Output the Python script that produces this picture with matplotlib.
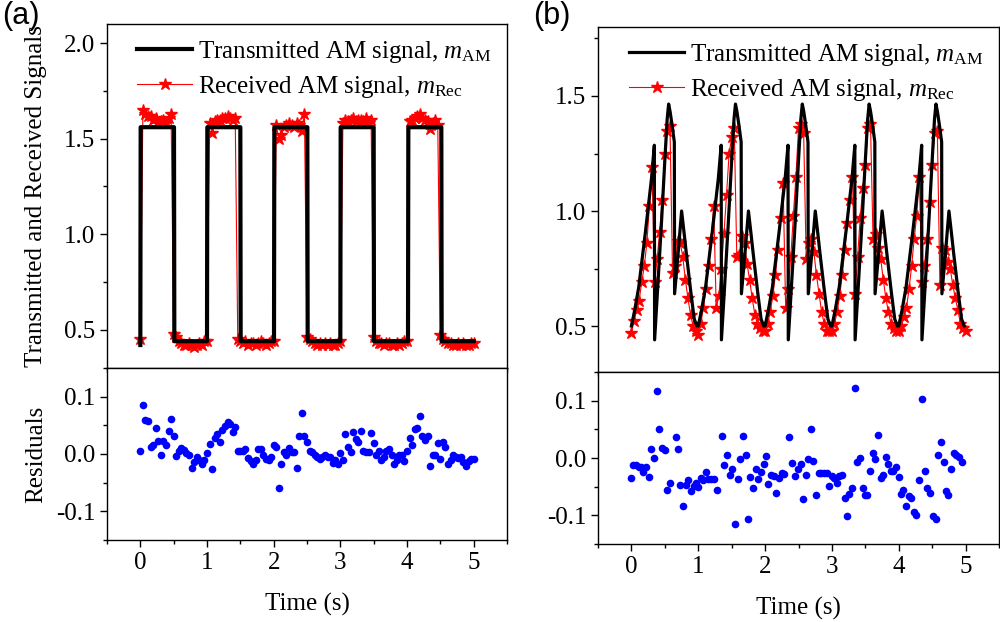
import matplotlib
matplotlib.use("Agg")
import matplotlib.pyplot as plt
import numpy as np
from matplotlib.ticker import MultipleLocator, FormatStrFormatter

# ---------------- data: panel (a) ----------------
# transmitted square-wave vertices
tx_a_t = [0.0, 0.005, 0.505, 0.51, 1.0, 1.005, 1.5, 1.505, 2.005, 2.01, 2.505, 2.51,
          3.0, 3.005, 3.5, 3.505, 4.015, 4.02, 4.515, 4.52, 5.0]
tx_a_v = [0.42, 1.56, 1.56, 0.44, 0.44, 1.56, 1.56, 0.44, 0.44, 1.56, 1.56, 0.44,
          0.44, 1.56, 1.56, 0.44, 0.44, 1.56, 1.56, 0.44, 0.44]

# sample times (a)
t_a = np.linspace(0, 5, 131)

rx_a = [0.45, 1.65, 1.63, 1.62, 1.62, 1.60, 1.61, 1.58, 1.59, 1.60, 1.58, 1.61, 1.63,
        0.48, 0.46, 0.44, 0.43, 0.42, 0.42, 0.43, 0.42, 0.41, 0.42, 0.43, 0.42, 0.44,
        0.44, 1.58, 1.53, 1.59, 1.60, 1.60, 1.61, 1.61, 1.62, 1.61, 1.60, 1.61, 0.45,
        0.44, 0.43, 0.44, 0.42, 0.43, 0.43, 0.42, 0.43, 0.44, 0.43, 0.42, 0.43, 0.44,
        0.44, 1.57, 1.50, 1.52, 1.56, 1.57, 1.58, 1.57, 1.56, 1.58, 1.57, 1.54, 1.63,
        0.46, 0.45, 0.44, 0.43, 0.42, 0.43, 0.42, 0.43, 0.42, 0.43, 0.42, 0.42, 0.43,
        0.44, 1.58, 1.60, 1.59, 1.60, 1.61, 1.59, 1.60, 1.60, 1.59, 1.61, 1.58, 1.60,
        0.46, 0.44, 0.43, 0.43, 0.42, 0.43, 0.43, 0.42, 0.42, 0.43, 0.42, 0.43, 0.44,
        0.44, 1.59, 1.60, 1.61, 1.62, 1.63, 1.61, 1.60, 1.59, 1.55, 1.58, 1.60, 1.57,
        0.47, 0.45, 0.44, 0.43, 0.43, 0.42, 0.42, 0.43, 0.42, 0.43, 0.42, 0.42, 0.43,
        0.43]

res_a = [0.006, 0.086, 0.060, 0.057, 0.012, 0.015, 0.045, 0.022, -0.001, 0.023,
         0.015, 0.040, 0.061, 0.031, -0.003, 0.005, 0.011, 0.007, 0.002, -0.001,
         -0.025, -0.014, -0.006, -0.011, -0.018, -0.011, 0.001, 0.018, -0.027, 0.028,
         0.034, 0.021, 0.041, 0.049, 0.055, 0.053, 0.038, 0.047, 0.006, 0.006,
         0.006, 0.008, -0.007, -0.013, -0.018, -0.011, 0.009, 0.008, -0.001, -0.008,
         -0.011, -0.005, 0.015, 0.013, -0.060, -0.017, 0.003, -0.001, 0.010, 0.003,
         0.003, -0.024, 0.032, 0.072, 0.031, 0.021, 0.006, 0.003, -0.001, -0.005,
         -0.009, -0.006, -0.001, -0.006, -0.005, -0.016, -0.011, -0.017, 0.001, -0.011,
         0.034, 0.012, 0.003, 0.039, 0.027, 0.021, 0.040, 0.006, 0.003, 0.003,
         0.037, 0.020, -0.002, 0.006, -0.011, -0.006, 0.005, 0.009, -0.002, -0.017,
         -0.011, -0.001, -0.002, -0.013, 0.006, 0.028, 0.015, 0.044, 0.045, 0.066,
         0.032, 0.025, 0.032, -0.021, -0.002, -0.001, 0.019, -0.009, 0.021, 0.013,
         -0.018, -0.011, -0.001, -0.005, -0.007, -0.006, -0.014, -0.021, -0.013, -0.008,
         -0.009]

# ---------------- data: panel (b) ----------------
tx_b_t = [0.00, 0.05, 0.11, 0.21, 0.30, 0.343, 0.347, 0.40, 0.45, 0.50, 0.535, 0.557,
          0.58, 0.61, 0.642, 0.646, 0.70, 0.751, 0.79, 0.82, 0.86, 0.89, 0.94, 0.98,
          1.00, 1.05, 1.11, 1.21, 1.30, 1.343, 1.347, 1.40, 1.45, 1.50, 1.535, 1.557,
          1.58, 1.61, 1.642, 1.646, 1.70, 1.751, 1.79, 1.82, 1.86, 1.89, 1.94, 1.98,
          2.00, 2.05, 2.11, 2.21, 2.30, 2.343, 2.347, 2.40, 2.45, 2.50, 2.535, 2.557,
          2.58, 2.61, 2.642, 2.646, 2.70, 2.751, 2.79, 2.82, 2.86, 2.89, 2.94, 2.98,
          3.00, 3.05, 3.11, 3.21, 3.30, 3.343, 3.347, 3.40, 3.45, 3.50, 3.535, 3.557,
          3.58, 3.61, 3.642, 3.646, 3.70, 3.751, 3.79, 3.82, 3.86, 3.89, 3.94, 3.98,
          4.00, 4.05, 4.11, 4.21, 4.30, 4.343, 4.347, 4.40, 4.45, 4.50, 4.535, 4.557,
          4.58, 4.61, 4.642, 4.646, 4.70, 4.751, 4.79, 4.82, 4.86, 4.89, 4.94, 4.98]
tx_b_v = [0.50, 0.57, 0.67, 0.91, 1.14, 1.286, 0.44, 0.70, 0.95, 1.22, 1.40, 1.465,
          1.43, 1.37, 1.30, 0.64, 0.82, 1.00, 0.90, 0.82, 0.72, 0.645, 0.53, 0.50,
          0.50, 0.57, 0.67, 0.91, 1.14, 1.286, 0.44, 0.70, 0.95, 1.22, 1.40, 1.465,
          1.43, 1.37, 1.30, 0.64, 0.82, 1.00, 0.90, 0.82, 0.72, 0.645, 0.53, 0.50,
          0.50, 0.57, 0.67, 0.91, 1.14, 1.286, 0.44, 0.70, 0.95, 1.22, 1.40, 1.465,
          1.43, 1.37, 1.30, 0.64, 0.82, 1.00, 0.90, 0.82, 0.72, 0.645, 0.53, 0.50,
          0.50, 0.57, 0.67, 0.91, 1.14, 1.286, 0.44, 0.70, 0.95, 1.22, 1.40, 1.465,
          1.43, 1.37, 1.30, 0.64, 0.82, 1.00, 0.90, 0.82, 0.72, 0.645, 0.53, 0.50,
          0.50, 0.57, 0.67, 0.91, 1.14, 1.286, 0.44, 0.70, 0.95, 1.22, 1.40, 1.465,
          1.43, 1.37, 1.30, 0.64, 0.82, 1.00, 0.90, 0.82, 0.72, 0.645, 0.53, 0.50]

t_b = np.linspace(0, 5, 131)
rx_b = [0.47, 0.52, 0.57, 0.61, 0.69, 0.76, 0.86, 1.02, 1.19, 0.69, 0.79, 0.91, 1.05,
        1.25, 1.35, 1.37, 0.73, 0.76, 0.87, 0.86, 0.80, 0.70, 0.62, 0.55, 0.50, 0.48,
        0.46, 0.51, 0.58, 0.66, 0.76, 0.88, 1.02, 0.58, 0.63, 0.75, 0.90, 1.07, 1.25,
        1.32, 1.36, 0.80, 0.81, 0.89, 0.86, 0.77, 0.70, 0.62, 0.55, 0.51, 0.49, 0.48,
        0.48, 0.51, 0.56, 0.63, 0.72, 0.83, 0.97, 1.12, 0.58, 0.66, 0.80, 0.98, 1.15,
        1.36, 1.38, 1.34, 0.79, 0.86, 0.88, 0.82, 0.72, 0.64, 0.56, 0.51, 0.48, 0.48,
        0.48, 0.51, 0.56, 0.63, 0.72, 0.83, 0.95, 1.05, 1.15, 0.64, 0.80, 0.97, 1.10,
        1.20, 1.36, 1.38, 0.88, 0.90, 0.84, 0.79, 0.70, 0.62, 0.56, 0.51, 0.49, 0.48,
        0.48, 0.50, 0.54, 0.58, 0.66, 0.76, 0.88, 0.98, 1.15, 0.69, 0.76, 0.88, 1.04,
        1.20, 1.34, 1.35, 0.68, 0.84, 0.83, 0.78, 0.75, 0.68, 0.62, 0.57, 0.51, 0.49,
        0.48]

res_b_t = [0.00, 0.03, 0.07, 0.11, 0.14, 0.18, 0.22, 0.26, 0.30, 0.34,
           0.38, 0.42, 0.46, 0.50, 0.53, 0.58, 0.66, 0.70, 0.73, 0.77,
           0.81, 0.85, 0.89, 0.93, 0.97, 1.00, 1.04, 1.07, 1.11, 1.15,
           1.19, 1.24, 1.28, 1.36, 1.39, 1.43, 1.47, 1.51, 1.55, 1.59,
           1.63, 1.67, 1.71, 1.74, 1.78, 1.82, 1.86, 1.90, 1.94, 1.98,
           2.01, 2.05, 2.09, 2.13, 2.17, 2.21, 2.25, 2.29, 2.36, 2.41,
           2.45, 2.49, 2.53, 2.56, 2.61, 2.64, 2.68, 2.72, 2.76, 2.80,
           2.84, 2.88, 2.92, 2.96, 3.00, 3.03, 3.07, 3.11, 3.15, 3.19,
           3.23, 3.26, 3.30, 3.34, 3.38, 3.42, 3.46, 3.49, 3.53, 3.57,
           3.61, 3.65, 3.69, 3.73, 3.77, 3.81, 3.84, 3.88, 3.92, 3.96,
           4.00, 4.03, 4.07, 4.11, 4.15, 4.19, 4.23, 4.26, 4.31, 4.35,
           4.39, 4.43, 4.47, 4.51, 4.55, 4.59, 4.63, 4.67, 4.71, 4.74,
           4.78, 4.82, 4.86, 4.90, 4.94]
res_b = [-0.035, -0.013, -0.013, -0.015, -0.015, -0.024, -0.015, -0.033, 0.015, 0.0,
         0.117, 0.051, 0.018, 0.014, -0.055, -0.043, 0.037, 0.016, -0.047, -0.083,
         -0.047, -0.039, -0.058, -0.049, -0.043, -0.051, -0.034, -0.039, -0.024, -0.037,
         -0.037, -0.037, -0.055, 0.038, -0.013, 0.005, -0.029, -0.020, -0.115, -0.037,
         -0.001, 0.038, 0.005, -0.106, -0.033, -0.053, -0.020, -0.037, -0.024, -0.011,
         0.003, -0.046, -0.029, -0.031, -0.061, -0.035, -0.026, -0.028, 0.037, -0.008,
         -0.031, -0.019, -0.011, -0.072, -0.029, -0.001, 0.050, -0.005, -0.065, -0.027,
         -0.026, -0.026, -0.026, -0.049, -0.031, -0.034, -0.043, -0.031, -0.030, -0.069,
         -0.102, -0.062, -0.053, 0.122, -0.007, 0.0, -0.052, -0.065, -0.065, -0.022,
         0.009, -0.001, 0.040, -0.034, -0.029, 0.002, -0.010, -0.023, -0.022, -0.016,
         -0.033, -0.062, -0.056, -0.084, -0.066, -0.069, -0.094, -0.099, -0.039, 0.103,
         -0.023, -0.052, -0.061, -0.102, -0.107, 0.006, 0.028, -0.007, -0.058, -0.065,
         -0.020, 0.009, 0.006, 0.002, -0.007]

xticks = [0, 1, 2, 3, 4, 5]
label_tx = r"Transmitted AM signal, $m_{\mathrm{AM}}$"
label_rx = r"Received AM signal, $m_{\mathrm{Rec}}$"

# ---------------- style ----------------
plt.rcParams.update({
    "font.family": ["Liberation Serif", "DejaVu Serif"],
    "mathtext.fontset": "custom",
    "mathtext.rm": "Liberation Serif",
    "mathtext.it": "Liberation Serif:italic",
    "axes.unicode_minus": False,
    "font.size": 18,
})

fig = plt.figure(figsize=(10, 6.22), dpi=100)
axa = fig.add_axes([0.107, 0.4084, 0.400, 0.5530])
ara = fig.add_axes([0.107, 0.1318, 0.400, 0.2766])
axb = fig.add_axes([0.598, 0.4019, 0.401, 0.5547])
arb = fig.add_axes([0.598, 0.1254, 0.401, 0.2765])


def style(ax):
    for s in ax.spines.values():
        s.set_linewidth(1.0)
    ax.tick_params(which="both", direction="out", top=False, right=False,
                   width=1.0, labelsize=18)
    ax.tick_params(which="major", length=5)
    ax.tick_params(which="minor", length=3)
    ax.set_xlim(-0.5, 5.5)
    ax.set_xticks(xticks)
    ax.xaxis.set_minor_locator(MultipleLocator(0.5))


for ax in (axa, ara, axb, arb):
    style(ax)

leg_kw = dict(loc="upper right", frameon=False, fontsize=18, handlelength=2.2,
              handletextpad=0.25, labelspacing=0.35, borderaxespad=0.2, numpoints=1)

# panel (a) top
rxa_line, = axa.plot(t_a, rx_a, color="red", lw=0.8, marker="*", ms=9,
                     mec="red", mfc="red", label=label_rx, zorder=2)
txa_line, = axa.plot(tx_a_t, tx_a_v, color="black", lw=3.0, label=label_tx, zorder=3)
axa.set_ylim(0.3, 2.1)
axa.set_yticks([0.5, 1.0, 1.5, 2.0])
axa.yaxis.set_minor_locator(MultipleLocator(0.25))
axa.yaxis.set_major_formatter(FormatStrFormatter("%.1f"))
axa.tick_params(labelbottom=False)
axa.set_ylabel("Transmitted and Received Signals", fontsize=18)
axa.yaxis.set_label_coords(-0.15, 0.5)
axa.legend(handles=[txa_line, rxa_line], **leg_kw)

# panel (a) residuals
ara.plot(t_a, res_a, linestyle="none", marker="o", ms=5.5, color="#0000ff", mec="none")
ara.set_ylim(-0.15, 0.15)
ara.set_yticks([-0.1, 0.0, 0.1])
ara.yaxis.set_minor_locator(MultipleLocator(0.05))
ara.yaxis.set_major_formatter(FormatStrFormatter("%.1f"))
ara.set_ylabel("Residuals", fontsize=18)
ara.yaxis.set_label_coords(-0.15, 0.5)
ara.set_xlabel("Time (s)", fontsize=18, labelpad=14)

# panel (b) top
rxb_line, = axb.plot(t_b, rx_b, color="red", lw=0.8, marker="*", ms=9,
                     mec="red", mfc="red", label=label_rx, zorder=2)
txb_line, = axb.plot(tx_b_t, tx_b_v, color="black", lw=2.3, label=label_tx, zorder=3)
axb.set_ylim(0.3, 1.8)
axb.set_yticks([0.5, 1.0, 1.5])
axb.yaxis.set_minor_locator(MultipleLocator(0.25))
axb.yaxis.set_major_formatter(FormatStrFormatter("%.1f"))
axb.tick_params(labelbottom=False)
axb.legend(handles=[txb_line, rxb_line], **leg_kw)

# panel (b) residuals
arb.plot(res_b_t, res_b, linestyle="none", marker="o", ms=5.5, color="#0000ff", mec="none")
arb.set_ylim(-0.15, 0.15)
arb.set_yticks([-0.1, 0.0, 0.1])
arb.yaxis.set_minor_locator(MultipleLocator(0.05))
arb.yaxis.set_major_formatter(FormatStrFormatter("%.1f"))
arb.set_xlabel("Time (s)", fontsize=18, labelpad=14)

fig.text(0.002, 0.998, "(a)", fontsize=22, family="Liberation Sans", ha="left", va="top")
fig.text(0.533, 0.998, "(b)", fontsize=22, family="Liberation Sans", ha="left", va="top")

fig.savefig("out.png", dpi=100)
